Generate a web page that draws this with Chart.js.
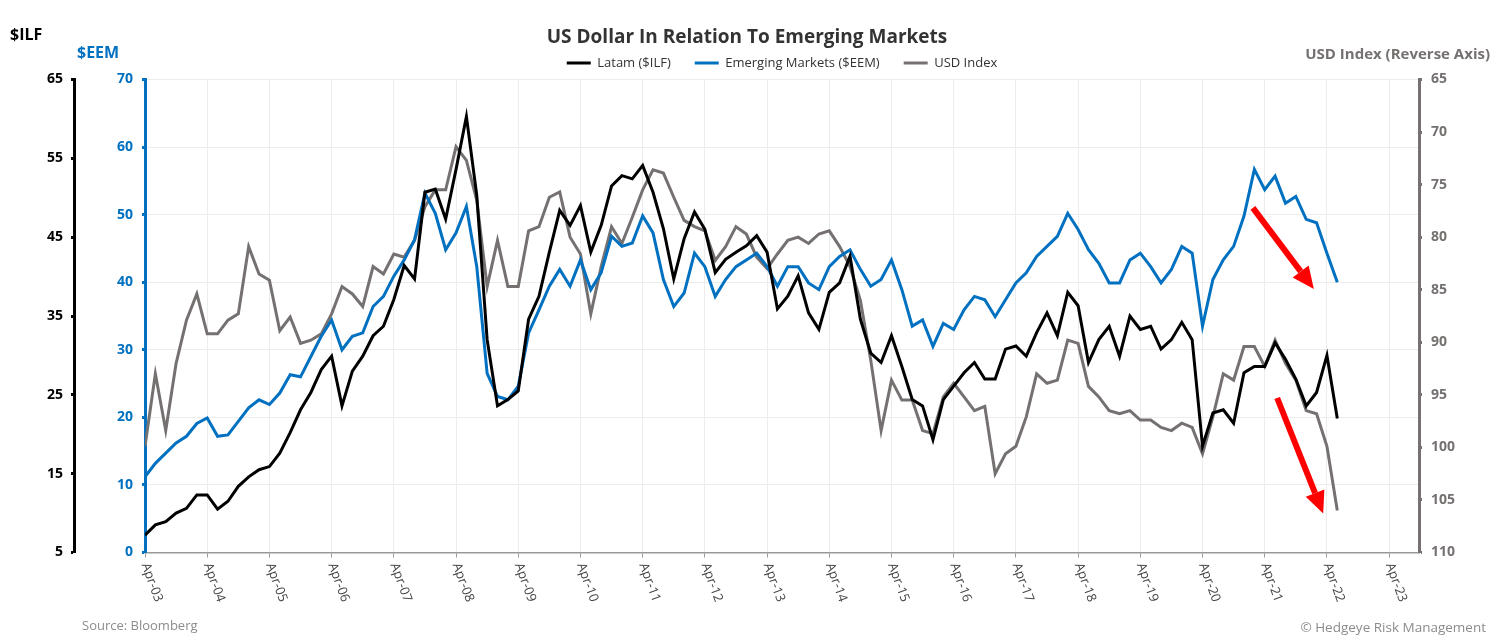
<!DOCTYPE html>
<html>
<head>
<meta charset="utf-8">
<script src="https://cdn.jsdelivr.net/npm/chart.js@4"></script>
<style>
  html, body { margin: 0; padding: 0; background: #fff; }
</style>
</head>
<body>
<canvas id="chart" width="1494" height="641"></canvas>
<script>
// one point every two months, starting Apr-03
const monthsPerPoint = 2;
const tickLabels = ['Apr-03', 'Apr-04', 'Apr-05', 'Apr-06', 'Apr-07', 'Apr-08', 'Apr-09', 'Apr-10',
  'Apr-11', 'Apr-12', 'Apr-13', 'Apr-14', 'Apr-15', 'Apr-16', 'Apr-17', 'Apr-18', 'Apr-19',
  'Apr-20', 'Apr-21', 'Apr-22', 'Apr-23'];

const latamILF = [
  7.2, 8.5, 8.9, 10.0, 10.6, 12.3, 12.3, 10.5, 11.5, 13.4, 14.6, 15.5, 15.9, 17.6, 20.2, 23.1,
  25.3, 28.2, 29.9, 23.6, 28.0, 29.9, 32.5, 33.7, 37.1, 41.4, 39.7, 50.7, 51.1, 47.3, 53.6, 60.3,
  50.3, 32.0, 23.6, 24.4, 25.5, 34.6, 37.5, 43.1, 48.4, 46.5, 49.0, 43.1, 46.5, 51.5, 52.8, 52.4,
  54.1, 50.7, 46.1, 39.7, 44.8, 48.2, 46.0, 40.5, 42.2, 43.1, 43.9, 45.2, 43.1, 35.9, 37.5, 40.1,
  35.4, 33.3, 38.0, 39.2, 42.6, 34.6, 30.3, 29.1, 32.5, 28.6, 24.4, 23.6, 19.3, 24.4, 26.1, 27.8,
  29.1, 27.0, 27.0, 30.8, 31.2, 29.9, 32.9, 35.4, 32.5, 38.0, 36.3, 29.1, 32.0, 33.7, 29.9, 35.0,
  33.3, 33.7, 30.8, 32.0, 34.2, 32.0, 18.5, 22.7, 23.1, 21.4, 27.8, 28.6, 28.6, 31.6, 29.5, 27.0,
  23.6, 25.3, 30.0, 22.0
];

const emergingEEM = [
  11.2, 13.2, 14.7, 16.2, 17.2, 19.1, 19.9, 17.2, 17.4, 19.4, 21.4, 22.6, 21.9, 23.6, 26.3, 26.0,
  29.0, 32.0, 34.4, 30.0, 32.0, 32.5, 36.4, 37.9, 40.9, 43.3, 46.3, 53.2, 50.2, 44.8, 47.3, 51.2,
  42.3, 26.5, 23.1, 22.6, 24.6, 32.5, 35.9, 39.4, 41.9, 39.4, 43.3, 38.9, 41.4, 46.8, 45.3, 45.8,
  49.8, 47.3, 40.4, 36.4, 38.4, 44.3, 42.3, 37.9, 40.4, 42.3, 43.3, 44.3, 42.3, 39.4, 42.3, 42.3,
  39.9, 38.9, 42.3, 43.8, 44.8, 41.9, 39.4, 40.4, 43.3, 38.9, 33.5, 34.4, 30.5, 33.9, 33.0, 35.9,
  37.9, 37.4, 34.9, 37.4, 39.9, 41.4, 43.8, 45.3, 46.8, 50.2, 47.8, 44.8, 42.8, 39.9, 39.9, 43.3,
  44.3, 42.3, 39.9, 41.9, 45.3, 44.3, 33.5, 40.4, 43.3, 45.3, 49.8, 56.7, 53.7, 55.7, 51.7, 52.7,
  49.3, 48.8, 44.3, 40.0
];

const usdIndex = [
  99.9, 93.0, 98.4, 92.0, 87.9, 85.4, 89.2, 89.2, 87.9, 87.3, 80.9, 83.5, 84.1, 88.9, 87.6, 90.1,
  89.8, 89.2, 87.3, 84.7, 85.4, 86.6, 82.8, 83.5, 81.6, 81.9, 80.3, 77.1, 75.5, 75.5, 71.4, 72.7,
  76.5, 84.7, 80.3, 84.7, 84.7, 79.4, 79.0, 76.2, 75.7, 80.0, 81.6, 87.3, 82.8, 79.0, 80.6, 78.1,
  75.5, 73.6, 73.9, 76.2, 78.4, 79.0, 79.4, 82.2, 80.9, 79.0, 79.7, 81.9, 83.0, 81.6, 80.3, 80.0,
  80.6, 79.7, 79.4, 80.9, 82.8, 86.0, 91.7, 98.4, 93.6, 95.5, 95.5, 98.4, 98.7, 95.2, 93.9, 95.2,
  96.5, 96.1, 102.5, 100.6, 99.9, 97.1, 93.0, 93.9, 93.6, 89.8, 90.1, 94.2, 95.2, 96.5, 96.8, 96.5,
  97.4, 97.4, 98.1, 98.4, 97.7, 98.1, 100.6, 97.1, 93.0, 93.6, 90.4, 90.4, 92.3, 89.8, 92.0, 93.6,
  96.5, 96.8, 99.9, 106.0
];

// red arrows, in years since Apr-03 and the value of the axis named
const arrows = [
  { axis: 'yEEM', from: [17.81, 51.0], to: [18.79, 39.0] },
  { axis: 'yUSD', from: [18.20, 95.3], to: [18.94, 106.3] }
];

const FONT = '"Open Sans"';
const BLUE = '#0070C0';
const GREY = '#767171';

const toPoints = arr => arr.map((v, i) => ({ x: i * monthsPerPoint / 12, y: v }));

const extras = {
  id: 'extras',
  afterDraw(chart) {
    const { ctx, scales } = chart;
    const xs = scales.x;
    ctx.save();

    // rotated x labels, reading downwards from each tick
    ctx.font = '13px ' + FONT;
    ctx.fillStyle = '#444';
    ctx.textAlign = 'left';
    ctx.textBaseline = 'middle';
    tickLabels.forEach((lab, k) => {
      const px = xs.getPixelForValue(k);
      ctx.save();
      ctx.translate(px, xs.top + 11);
      ctx.rotate(70 * Math.PI / 180);
      ctx.fillText(lab, 0, 0);
      ctx.restore();
    });

    // axis titles
    ctx.font = 'bold 16px ' + FONT;
    ctx.fillStyle = '#000';
    ctx.fillText('$ILF', 10, 35);
    ctx.fillStyle = BLUE;
    ctx.fillText('$EEM', 77, 53);
    ctx.font = 'bold 15px ' + FONT;
    ctx.fillStyle = GREY;
    ctx.textAlign = 'right';
    ctx.fillText('USD Index (Reverse Axis)', 1490, 55);

    // footer
    ctx.font = '13px ' + FONT;
    ctx.fillStyle = '#8c8c8c';
    ctx.textAlign = 'left';
    ctx.fillText('Source: Bloomberg', 82, 626);
    ctx.font = '13.5px ' + FONT;
    ctx.textAlign = 'right';
    ctx.fillText('\u00A9 Hedgeye Risk Management', 1486, 628);

    // arrows
    ctx.strokeStyle = '#FF0000';
    ctx.fillStyle = '#FF0000';
    ctx.lineWidth = 6;
    arrows.forEach(a => {
      const ys = scales[a.axis];
      const x0 = xs.getPixelForValue(a.from[0]), y0 = ys.getPixelForValue(a.from[1]);
      const x1 = xs.getPixelForValue(a.to[0]), y1 = ys.getPixelForValue(a.to[1]);
      const ang = Math.atan2(y1 - y0, x1 - x0);
      const head = 22, half = 10;
      const bx = x1 - head * Math.cos(ang), by = y1 - head * Math.sin(ang);
      ctx.beginPath();
      ctx.moveTo(x0, y0);
      ctx.lineTo(bx, by);
      ctx.stroke();
      ctx.beginPath();
      ctx.moveTo(x1, y1);
      ctx.lineTo(bx + half * Math.sin(ang), by - half * Math.cos(ang));
      ctx.lineTo(bx - half * Math.sin(ang), by + half * Math.cos(ang));
      ctx.closePath();
      ctx.fill();
    });

    ctx.restore();
  }
};

Chart.defaults.font.family = FONT;

new Chart(document.getElementById('chart').getContext('2d'), {
  type: 'line',
  data: {
    datasets: [
      {
        label: 'Latam ($ILF)',
        data: toPoints(latamILF),
        yAxisID: 'yILF',
        borderColor: '#000',
        backgroundColor: '#000',
        borderWidth: 3
      },
      {
        label: 'Emerging Markets ($EEM)',
        data: toPoints(emergingEEM),
        yAxisID: 'yEEM',
        borderColor: BLUE,
        backgroundColor: BLUE,
        borderWidth: 3
      },
      {
        label: 'USD Index',
        data: toPoints(usdIndex),
        yAxisID: 'yUSD',
        borderColor: GREY,
        backgroundColor: GREY,
        borderWidth: 3
      }
    ]
  },
  options: {
    responsive: false,
    animation: false,
    layout: { padding: 0 },
    elements: { point: { radius: 0 }, line: { tension: 0 } },
    plugins: {
      title: {
        display: true,
        text: 'US Dollar In Relation To Emerging Markets',
        color: '#333',
        font: { size: 19, weight: 'bold' },
        padding: { top: 26.6, bottom: -16.9 }
      },
      legend: {
        fullSize: false,
        labels: {
          boxWidth: 24,
          boxHeight: 3,
          padding: 24,
          color: '#333',
          font: { size: 13 },
          generateLabels: chart =>
            Chart.defaults.plugins.legend.labels.generateLabels(chart).map(l => ({ ...l, lineWidth: 0 }))
        }
      },
      tooltip: { enabled: false }
    },
    scales: {
      x: {
        type: 'linear',
        min: 0,
        max: 20.48,
        ticks: { display: false, stepSize: 1 },
        afterBuildTicks: s => { s.ticks = tickLabels.map((_, k) => ({ value: k })); },
        afterFit: s => { s.height = 88.5; },
        grid: { color: '#ececec', tickColor: '#999', tickLength: 5 },
        border: { color: '#999', width: 1.5 }
      },
      yILF: {
        position: 'left',
        weight: 1,
        min: 5,
        max: 65,
        ticks: { stepSize: 10, color: '#000', padding: 8, font: { size: 14, weight: 'bold' } },
        grid: { drawOnChartArea: false, tickLength: 3, tickColor: '#000', tickWidth: 3 },
        border: { color: '#000', width: 3 },
        afterFit: s => { s.width = 74; }
      },
      yEEM: {
        position: 'left',
        weight: 0,
        min: 0,
        max: 70,
        ticks: { stepSize: 10, color: BLUE, padding: 9, font: { size: 14, weight: 'bold' } },
        grid: { color: '#ececec', tickLength: 3, tickColor: BLUE, tickWidth: 3 },
        border: { color: BLUE, width: 3 },
        afterFit: s => { s.width = 71; }
      },
      yUSD: {
        position: 'right',
        reverse: true,
        min: 65,
        max: 110,
        ticks: { stepSize: 5, color: GREY, padding: 9, font: { size: 14, weight: 'bold' } },
        grid: { drawOnChartArea: false, tickLength: 3, tickColor: GREY, tickWidth: 3 },
        border: { color: GREY, width: 3 },
        afterFit: s => { s.width = 75; }
      }
    }
  },
  plugins: [extras]
});
</script>
</body>
</html>
